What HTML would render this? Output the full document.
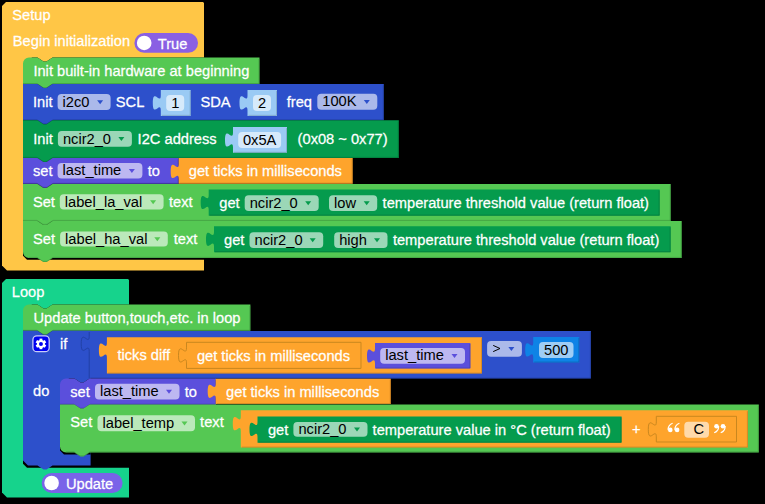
<!DOCTYPE html>
<html><head><meta charset="utf-8"><style>
html,body{margin:0;padding:0;background:#000;width:765px;height:504px;overflow:hidden}
svg{display:block}
text{font-family:"Liberation Sans",sans-serif;-webkit-font-smoothing:antialiased}
</style></head><body>
<svg width="765" height="504" viewBox="0 0 765 504">
<rect width="765" height="504" fill="#000"/>
<path d="M2,6 L6,2 L203,2 L204,3 L204,270.6 L7,270.6 L2,265.6 Z" fill="#FFC646"/>
<path d="M23,66.5 L32,57.5 L37.5,57.5 l6,4 l3,0 l6,-4 L204,57.5 L204,259.8 L27,259.8 L23,255.8 Z" fill="#000"/>
<text transform="translate(12.30,19.6) scale(1,1.04)" fill="#fff" stroke="#fff" stroke-width="0.25" font-size="14.67">Setup</text>
<text transform="translate(12.80,45.6) scale(1,1.04)" fill="#fff" stroke="#fff" stroke-width="0.25" font-size="14.67">Begin initialization</text>
<rect x="134.4" y="33.1" width="63.60" height="19.70" rx="9.85" fill="#8A60E3"/>
<circle cx="144.2" cy="42.95" r="7.3" fill="#fff"/>
<text transform="translate(157.80,49.25) scale(1,1.04)" fill="#fff" stroke="#fff" stroke-width="0.25" font-size="14.67">True</text>
<path d="M23,63.5 A6,6 0 0 1 29,57.5 L37.5,57.5 l6,4 l3,0 l6,-4 L259.5,57.5 L259.5,84.0 L52.5,84.0 l-6,4 l-3,0 l-6,-4 L23,84.0 Z" fill="#55C853"/>
<path d="M259.0,59.0 L259.0,83.5 L53.0,83.5 l-6,4 l-4,0 l-6,-4 L23,83.5" fill="none" stroke="#3b8c3a" stroke-width="1" stroke-opacity="0.55"/>
<text transform="translate(33.40,75.5) scale(1,1.04)" fill="#fff" stroke="#fff" stroke-width="0.25" font-size="14.67">Init built-in hardware at beginning</text>
<path d="M23,84 L37.5,84 l6,4 l3,0 l6,-4 L383.8,84 L383.8,120.3 L52.5,120.3 l-6,4 l-3,0 l-6,-4 L23,120.3 Z" fill="#2D50CB"/>
<path d="M383.3,85.5 L383.3,119.8 L53.0,119.8 l-6,4 l-4,0 l-6,-4 L23,119.8" fill="none" stroke="#1f388e" stroke-width="1" stroke-opacity="0.55"/>
<text transform="translate(33.00,106.8) scale(1,1.04)" fill="#fff" stroke="#fff" stroke-width="0.25" font-size="14.67">Init</text>
<rect x="57.6" y="94" width="53.00" height="16.00" rx="4" fill="#fff" fill-opacity="0.6"/>
<text transform="translate(62.60,106.6) scale(1,1.04)" fill="#000" font-size="14.67">i2c0</text>
<path d="M97.1,100.2 L103.1,100.2 L100.1,104.2 Z" fill="#2D50CB"/>
<text transform="translate(115.80,106.6) scale(1,1.04)" fill="#fff" stroke="#fff" stroke-width="0.25" font-size="14.67">SCL</text>
<path d="M160.8,89.9 L190.70000000000002,89.9 L190.70000000000002,115.9 L160.8,115.9 L160.8,110.4 c0,-10 -8,8 -8,-7.5 s8,2.5 8,-7.5 Z" fill="#9ACAF4"/>
<path d="M190.20000000000002,90.9 L190.20000000000002,115.4 L161.8,115.4" fill="none" stroke="#6b8daa" stroke-width="1" stroke-opacity="0.5"/>
<rect x="166.2" y="95" width="18.00" height="15.90" rx="4" fill="#fff" fill-opacity="0.6"/>
<text transform="translate(175.20,107.95) scale(1,1.04)" fill="#000" font-size="14.67" text-anchor="middle">1</text>
<text transform="translate(200.50,106.6) scale(1,1.04)" fill="#fff" stroke="#fff" stroke-width="0.25" font-size="14.67">SDA</text>
<path d="M247.5,89.9 L277.0,89.9 L277.0,115.9 L247.5,115.9 L247.5,110.4 c0,-10 -8,8 -8,-7.5 s8,2.5 8,-7.5 Z" fill="#9ACAF4"/>
<path d="M276.5,90.9 L276.5,115.4 L248.5,115.4" fill="none" stroke="#6b8daa" stroke-width="1" stroke-opacity="0.5"/>
<rect x="253" y="95" width="18.00" height="15.90" rx="4" fill="#fff" fill-opacity="0.6"/>
<text transform="translate(262.00,107.95) scale(1,1.04)" fill="#000" font-size="14.67" text-anchor="middle">2</text>
<text transform="translate(286.70,106.6) scale(1,1.04)" fill="#fff" stroke="#fff" stroke-width="0.25" font-size="14.67">freq</text>
<rect x="317.3" y="93.8" width="60.00" height="15.90" rx="4" fill="#fff" fill-opacity="0.6"/>
<text transform="translate(322.30,106.35) scale(1,1.04)" fill="#000" font-size="14.67">100K</text>
<path d="M363.8,99.95 L369.8,99.95 L366.8,103.95 Z" fill="#2D50CB"/>
<path d="M23,120.3 L37.5,120.3 l6,4 l3,0 l6,-4 L398.8,120.3 L398.8,157.9 L52.5,157.9 l-6,4 l-3,0 l-6,-4 L23,157.9 Z" fill="#059B4D"/>
<path d="M398.3,121.8 L398.3,157.4 L53.0,157.4 l-6,4 l-4,0 l-6,-4 L23,157.4" fill="none" stroke="#036c35" stroke-width="1" stroke-opacity="0.55"/>
<text transform="translate(33.20,143.9) scale(1,1.04)" fill="#fff" stroke="#fff" stroke-width="0.25" font-size="14.67">Init</text>
<rect x="57.9" y="131" width="74.00" height="15.80" rx="4" fill="#fff" fill-opacity="0.6"/>
<text transform="translate(62.90,143.5) scale(1,1.04)" fill="#000" font-size="14.67">ncir2_0</text>
<path d="M118.4,137.1 L124.4,137.1 L121.4,141.1 Z" fill="#059B4D"/>
<text transform="translate(137.60,143.8) scale(1,1.04)" fill="#fff" stroke="#fff" stroke-width="0.25" font-size="14.67">I2C address</text>
<path d="M233,127 L287,127 L287,152.8 L233,152.8 L233,147.5 c0,-10 -8,8 -8,-7.5 s8,2.5 8,-7.5 Z" fill="#9ACAF4"/>
<path d="M286.5,128 L286.5,152.3 L234,152.3" fill="none" stroke="#6b8daa" stroke-width="1" stroke-opacity="0.5"/>
<rect x="238.2" y="131.9" width="42.90" height="16.20" rx="4" fill="#fff" fill-opacity="0.6"/>
<text transform="translate(259.65,145.0) scale(1,1.04)" fill="#000" font-size="14.67" text-anchor="middle">0x5A</text>
<text transform="translate(297.60,143.8) scale(1,1.04)" fill="#fff" stroke="#fff" stroke-width="0.25" font-size="14.67">(0x08 ~ 0x77)</text>
<path d="M23,157.9 L37.5,157.9 l6,4 l3,0 l6,-4 L178.7,157.9 L178.7,183.8 L52.5,183.8 l-6,4 l-3,0 l-6,-4 L23,183.8 Z" fill="#5B4FDC"/>
<path d="M178.2,159.4 L178.2,183.3 L53.0,183.3 l-6,4 l-4,0 l-6,-4 L23,183.3" fill="none" stroke="#3f379a" stroke-width="1" stroke-opacity="0.55"/>
<text transform="translate(32.90,175.8) scale(1,1.04)" fill="#fff" stroke="#fff" stroke-width="0.25" font-size="14.67">set</text>
<rect x="57.6" y="163" width="84.80" height="15.60" rx="4" fill="#fff" fill-opacity="0.6"/>
<text transform="translate(62.60,175.4) scale(1,1.04)" fill="#000" font-size="14.67">last_time</text>
<path d="M128.9,169.0 L134.9,169.0 L131.9,173.0 Z" fill="#5B4FDC"/>
<text transform="translate(147.80,175.8) scale(1,1.04)" fill="#fff" stroke="#fff" stroke-width="0.25" font-size="14.67">to</text>
<path d="M178.7,157.9 L352.7,157.9 L352.7,183.70000000000002 L178.7,183.70000000000002 L178.7,178.9 c0,-10 -8,8 -8,-7.5 s8,2.5 8,-7.5 Z" fill="#FEA42C"/>
<path d="M352.2,158.9 L352.2,183.20000000000002 L179.7,183.20000000000002" fill="none" stroke="#b1721e" stroke-width="1" stroke-opacity="0.5"/>
<text transform="translate(188.80,175.8) scale(1,1.04)" fill="#fff" stroke="#fff" stroke-width="0.25" font-size="14.67">get ticks in milliseconds</text>
<path d="M23,184 L37.5,184 l6,4 l3,0 l6,-4 L670.7,184 L670.7,220.9 L52.5,220.9 l-6,4 l-3,0 l-6,-4 L23,220.9 Z" fill="#55C853"/>
<path d="M670.2,185.5 L670.2,220.4 L53.0,220.4 l-6,4 l-4,0 l-6,-4 L23,220.4" fill="none" stroke="#3b8c3a" stroke-width="1" stroke-opacity="0.55"/>
<text transform="translate(32.90,207.2) scale(1,1.04)" fill="#fff" stroke="#fff" stroke-width="0.25" font-size="14.67">Set</text>
<rect x="59.8" y="194.3" width="103.80" height="15.30" rx="4" fill="#fff" fill-opacity="0.6"/>
<text transform="translate(64.80,206.54999999999998) scale(1,1.04)" fill="#000" font-size="14.67">label_la_val</text>
<path d="M150.1,200.14999999999998 L156.1,200.14999999999998 L153.1,204.14999999999998 Z" fill="#55C853"/>
<text transform="translate(169.00,207.2) scale(1,1.04)" fill="#fff" stroke="#fff" stroke-width="0.25" font-size="14.67">text</text>
<path d="M208.7,189.5 L659.7,189.5 L659.7,215.7 L208.7,215.7 L208.7,210.0 c0,-10 -8,8 -8,-7.5 s8,2.5 8,-7.5 Z" fill="#059B4D"/>
<path d="M659.2,190.5 L659.2,215.2 L209.7,215.2" fill="none" stroke="#036c35" stroke-width="1" stroke-opacity="0.5"/>
<text transform="translate(219.30,208.1) scale(1,1.04)" fill="#fff" stroke="#fff" stroke-width="0.25" font-size="14.67">get</text>
<rect x="244.7" y="195.2" width="74.00" height="15.80" rx="4" fill="#fff" fill-opacity="0.6"/>
<text transform="translate(249.70,207.7) scale(1,1.04)" fill="#000" font-size="14.67">ncir2_0</text>
<path d="M305.2,201.29999999999998 L311.2,201.29999999999998 L308.2,205.29999999999998 Z" fill="#059B4D"/>
<rect x="329" y="195.2" width="48.20" height="15.80" rx="4" fill="#fff" fill-opacity="0.6"/>
<text transform="translate(334.00,207.7) scale(1,1.04)" fill="#000" font-size="14.67">low</text>
<path d="M363.7,201.29999999999998 L369.7,201.29999999999998 L366.7,205.29999999999998 Z" fill="#059B4D"/>
<text transform="translate(382.60,208) scale(1,1.04)" fill="#fff" stroke="#fff" stroke-width="0.25" font-size="14.67">temperature threshold value (return float)</text>
<path d="M23,221 L37.5,221 l6,4 l3,0 l6,-4 L681.7,221 L681.7,257.9 L52.5,257.9 l-6,4 l-3,0 l-6,-4 L29,257.9 A6,6 0 0 1 23,251.89999999999998 Z" fill="#55C853"/>
<path d="M681.2,222.5 L681.2,257.4 L53.0,257.4 l-6,4 l-4,0 l-6,-4 L29,257.4" fill="none" stroke="#3b8c3a" stroke-width="1" stroke-opacity="0.55"/>
<text transform="translate(33.00,244.3) scale(1,1.04)" fill="#fff" stroke="#fff" stroke-width="0.25" font-size="14.67">Set</text>
<rect x="60.1" y="231.5" width="107.70" height="15.10" rx="4" fill="#fff" fill-opacity="0.6"/>
<text transform="translate(65.10,243.65) scale(1,1.04)" fill="#000" font-size="14.67">label_ha_val</text>
<path d="M154.3,237.25 L160.3,237.25 L157.3,241.25 Z" fill="#55C853"/>
<text transform="translate(173.80,244.3) scale(1,1.04)" fill="#fff" stroke="#fff" stroke-width="0.25" font-size="14.67">text</text>
<path d="M214,226.3 L670.7,226.3 L670.7,252.3 L214,252.3 L214,246.8 c0,-10 -8,8 -8,-7.5 s8,2.5 8,-7.5 Z" fill="#059B4D"/>
<path d="M670.2,227.3 L670.2,251.8 L215,251.8" fill="none" stroke="#036c35" stroke-width="1" stroke-opacity="0.5"/>
<text transform="translate(224.00,245.1) scale(1,1.04)" fill="#fff" stroke="#fff" stroke-width="0.25" font-size="14.67">get</text>
<rect x="249.5" y="232.2" width="73.70" height="15.80" rx="4" fill="#fff" fill-opacity="0.6"/>
<text transform="translate(254.50,244.7) scale(1,1.04)" fill="#000" font-size="14.67">ncir2_0</text>
<path d="M309.7,238.29999999999998 L315.7,238.29999999999998 L312.7,242.29999999999998 Z" fill="#059B4D"/>
<rect x="334.2" y="232.2" width="53.30" height="15.80" rx="4" fill="#fff" fill-opacity="0.6"/>
<text transform="translate(339.20,244.7) scale(1,1.04)" fill="#000" font-size="14.67">high</text>
<path d="M374.0,238.29999999999998 L380.0,238.29999999999998 L377.0,242.29999999999998 Z" fill="#059B4D"/>
<text transform="translate(392.90,245) scale(1,1.04)" fill="#fff" stroke="#fff" stroke-width="0.25" font-size="14.67">temperature threshold value (return float)</text>
<path d="M2,283 L6,279 L128,279 L129,280 L129,497.6 L7,497.6 L2,492.6 Z" fill="#16D38C"/>
<path d="M23,313.5 L32,304.5 L37.5,304.5 l6,4 l3,0 l6,-4 L129,304.5 L129,467.8 L27,467.8 L23,463.8 Z" fill="#000"/>
<text transform="translate(11.80,297) scale(1,1.04)" fill="#fff" stroke="#fff" stroke-width="0.25" font-size="14.67">Loop</text>
<path d="M23,310.5 A6,6 0 0 1 29,304.5 L37.5,304.5 l6,4 l3,0 l6,-4 L250.4,304.5 L250.4,330.8 L52.5,330.8 l-6,4 l-3,0 l-6,-4 L23,330.8 Z" fill="#55C853"/>
<path d="M249.9,306.0 L249.9,330.3 L53.0,330.3 l-6,4 l-4,0 l-6,-4 L23,330.3" fill="none" stroke="#3b8c3a" stroke-width="1" stroke-opacity="0.55"/>
<text transform="translate(33.50,322.5) scale(1,1.04)" fill="#fff" stroke="#fff" stroke-width="0.25" font-size="14.67">Update button,touch,etc. in loop</text>
<path d="M23,330.8 L37.5,330.8 l6,4 l3,0 l6,-4 L90.6,330.8 L90.6,465.6 L52.5,465.6 l-6,4 l-3,0 l-6,-4 L28,465.6 L23,460.6 Z" fill="#2D50CB"/>
<path d="M60,388 L69,378.5 L74.5,378.5 l6,4 l3,0 l6,-4 L90.6,378.5 L90.6,454.6 L64,454.6 L60,450.6 Z" fill="#000"/>
<rect x="32.9" y="335.9" width="16.3" height="15.8" rx="4" fill="#0000F0" stroke="#C8CCF8" stroke-width="1.3"/>
<g transform="translate(40.95,343.9)"><circle r="4" fill="#fff"/><rect x="-1.4" y="-5.3" width="2.8" height="3" transform="rotate(0)" fill="#fff"/><rect x="-1.4" y="-5.3" width="2.8" height="3" transform="rotate(60)" fill="#fff"/><rect x="-1.4" y="-5.3" width="2.8" height="3" transform="rotate(120)" fill="#fff"/><rect x="-1.4" y="-5.3" width="2.8" height="3" transform="rotate(180)" fill="#fff"/><rect x="-1.4" y="-5.3" width="2.8" height="3" transform="rotate(240)" fill="#fff"/><rect x="-1.4" y="-5.3" width="2.8" height="3" transform="rotate(300)" fill="#fff"/><circle r="2" fill="#0000F0"/></g>
<text transform="translate(60.00,349) scale(1,1.04)" fill="#fff" stroke="#fff" stroke-width="0.25" font-size="14.67">if</text>
<text transform="translate(33.10,396) scale(1,1.04)" fill="#fff" stroke="#fff" stroke-width="0.25" font-size="14.67">do</text>
<path d="M89.3,331.1 L590.9,331.1 L590.9,378.6 L89.3,378.6 L89.3,351.3 c0,-10 -8,8 -8,-7.5 s8,2.5 8,-7.5 Z" fill="#2D50CB"/>
<path d="M590.4,332.1 L590.4,378.1 L90.3,378.1" fill="none" stroke="#1f388e" stroke-width="1" stroke-opacity="0.5"/>
<path d="M89.2,332 L89.2,336.3 c0,10 -8,-8 -8,7.5 s8,-2.5 8,7.5 L89.2,378.6" fill="none" stroke="#2241A6" stroke-width="1"/>
<path d="M106.9,337.2 L482.0,337.2 L482.0,373.59999999999997 L106.9,373.59999999999997 L106.9,357.7 c0,-10 -8,8 -8,-7.5 s8,2.5 8,-7.5 Z" fill="#FEA42C"/>
<path d="M481.5,338.2 L481.5,373.09999999999997 L107.9,373.09999999999997" fill="none" stroke="#b1721e" stroke-width="1" stroke-opacity="0.5"/>
<text transform="translate(117.40,359.8) scale(1,1.04)" fill="#fff" stroke="#fff" stroke-width="0.25" font-size="14.67">ticks diff</text>
<path d="M186.5,342.3 L361.0,342.3 L361.0,368.40000000000003 L186.5,368.40000000000003 L186.5,362.90000000000003 c0,-10 -8,8 -8,-7.5 s8,2.5 8,-7.5 Z" fill="#FEA42C" stroke="#C9871F" stroke-width="1"/>
<text transform="translate(196.90,360.6) scale(1,1.04)" fill="#fff" stroke="#fff" stroke-width="0.25" font-size="14.67">get ticks in milliseconds</text>
<path d="M375,343 L470.4,343 L470.4,368.5 L375,368.5 L375,363.5 c0,-10 -8,8 -8,-7.5 s8,2.5 8,-7.5 Z" fill="#5B4FDC"/>
<path d="M469.9,344 L469.9,368.0 L376,368.0" fill="none" stroke="#3f379a" stroke-width="1" stroke-opacity="0.5"/>
<rect x="380.2" y="348" width="84.80" height="15.70" rx="4" fill="#fff" fill-opacity="0.6"/>
<text transform="translate(385.20,360.45000000000005) scale(1,1.04)" fill="#000" font-size="14.67">last_time</text>
<path d="M451.5,354.05 L457.5,354.05 L454.5,358.05 Z" fill="#5B4FDC"/>
<rect x="487.1" y="341.1" width="34.80" height="15.60" rx="4" fill="#fff" fill-opacity="0.6"/>
<text transform="translate(492.10,353.5) scale(1,1.04)" fill="#000" font-size="14.67"></text>
<path d="M508.4,347.09999999999997 L514.4,347.09999999999997 L511.4,351.09999999999997 Z" fill="#2D50CB"/>
<path d="M493.2,345.4 L500,348.5 L493.2,351.6" fill="none" stroke="#000" stroke-width="1"/>
<path d="M533.2,336.9 L579.3000000000001,336.9 L579.3000000000001,362.5 L533.2,362.5 L533.2,357.4 c0,-10 -8,8 -8,-7.5 s8,2.5 8,-7.5 Z" fill="#0E83E6"/>
<path d="M578.8000000000001,337.9 L578.8000000000001,362.0 L534.2,362.0" fill="none" stroke="#095ba1" stroke-width="1" stroke-opacity="0.5"/>
<rect x="539" y="342" width="34.50" height="16.00" rx="4" fill="#fff" fill-opacity="0.6"/>
<text transform="translate(556.25,355.0) scale(1,1.04)" fill="#000" font-size="14.67" text-anchor="middle">500</text>
<path d="M60,384.4 A6,6 0 0 1 66,378.4 L74.5,378.4 l6,4 l3,0 l6,-4 L216,378.4 L216,404.7 L89.5,404.7 l-6,4 l-3,0 l-6,-4 L60,404.7 Z" fill="#5B4FDC"/>
<path d="M215.5,379.9 L215.5,404.2 L90.0,404.2 l-6,4 l-4,0 l-6,-4 L60,404.2" fill="none" stroke="#3f379a" stroke-width="1" stroke-opacity="0.55"/>
<text transform="translate(70.20,396.6) scale(1,1.04)" fill="#fff" stroke="#fff" stroke-width="0.25" font-size="14.67">set</text>
<rect x="95" y="383.8" width="84.50" height="15.70" rx="4" fill="#fff" fill-opacity="0.6"/>
<text transform="translate(100.00,396.25) scale(1,1.04)" fill="#000" font-size="14.67">last_time</text>
<path d="M166.0,389.84999999999997 L172.0,389.84999999999997 L169.0,393.84999999999997 Z" fill="#5B4FDC"/>
<text transform="translate(184.70,396.6) scale(1,1.04)" fill="#fff" stroke="#fff" stroke-width="0.25" font-size="14.67">to</text>
<path d="M215.7,378.8 L390.79999999999995,378.8 L390.79999999999995,404.1 L215.7,404.1 L215.7,398.8 c0,-10 -8,8 -8,-7.5 s8,2.5 8,-7.5 Z" fill="#FEA42C"/>
<path d="M390.29999999999995,379.8 L390.29999999999995,403.6 L216.7,403.6" fill="none" stroke="#b1721e" stroke-width="1" stroke-opacity="0.5"/>
<text transform="translate(226.10,396.6) scale(1,1.04)" fill="#fff" stroke="#fff" stroke-width="0.25" font-size="14.67">get ticks in milliseconds</text>
<path d="M60,404.5 L74.5,404.5 l6,4 l3,0 l6,-4 L758.8,404.5 L758.8,452.4 L89.5,452.4 l-6,4 l-3,0 l-6,-4 L66,452.4 A6,6 0 0 1 60,446.4 Z" fill="#55C853"/>
<path d="M758.3,406.0 L758.3,451.9 L90.0,451.9 l-6,4 l-4,0 l-6,-4 L66,451.9" fill="none" stroke="#3b8c3a" stroke-width="1" stroke-opacity="0.55"/>
<text transform="translate(70.30,427.2) scale(1,1.04)" fill="#fff" stroke="#fff" stroke-width="0.25" font-size="14.67">Set</text>
<rect x="97.5" y="415.3" width="97.50" height="16.00" rx="4" fill="#fff" fill-opacity="0.6"/>
<text transform="translate(102.50,427.90000000000003) scale(1,1.04)" fill="#000" font-size="14.67">label_temp</text>
<path d="M181.5,421.5 L187.5,421.5 L184.5,425.5 Z" fill="#55C853"/>
<text transform="translate(200.10,427.2) scale(1,1.04)" fill="#fff" stroke="#fff" stroke-width="0.25" font-size="14.67">text</text>
<path d="M240.8,410.2 L747.9000000000001,410.2 L747.9000000000001,447.59999999999997 L240.8,447.59999999999997 L240.8,431.2 c0,-10 -8,8 -8,-7.5 s8,2.5 8,-7.5 Z" fill="#FEA42C"/>
<path d="M747.4000000000001,411.2 L747.4000000000001,447.09999999999997 L241.8,447.09999999999997" fill="none" stroke="#b1721e" stroke-width="1" stroke-opacity="0.5"/>
<path d="M257.5,416.4 L621.6,416.4 L621.6,442.7 L257.5,442.7 L257.5,436.9 c0,-10 -8,8 -8,-7.5 s8,2.5 8,-7.5 Z" fill="#059B4D"/>
<path d="M621.1,417.4 L621.1,442.2 L258.5,442.2" fill="none" stroke="#036c35" stroke-width="1" stroke-opacity="0.5"/>
<text transform="translate(267.90,434.6) scale(1,1.04)" fill="#fff" stroke="#fff" stroke-width="0.25" font-size="14.67">get</text>
<rect x="293.4" y="422" width="74.10" height="14.70" rx="4" fill="#fff" fill-opacity="0.6"/>
<text transform="translate(298.40,433.95000000000005) scale(1,1.04)" fill="#000" font-size="14.67">ncir2_0</text>
<path d="M354.0,427.55 L360.0,427.55 L357.0,431.55 Z" fill="#059B4D"/>
<text transform="translate(372.60,434.6) scale(1,1.04)" fill="#fff" stroke="#fff" stroke-width="0.25" font-size="14.67">temperature value in °C (return float)</text>
<text transform="translate(636.30,434) scale(1,1.04)" fill="#fff" stroke="#fff" stroke-width="0.25" font-size="14.67" text-anchor="middle">+</text>
<path d="M656.3,416.3 L736.5,416.3 L736.5,442.0 L656.3,442.0 L656.3,436.90000000000003 c0,-10 -8,8 -8,-7.5 s8,2.5 8,-7.5 Z" fill="#FEA42C" stroke="#C9871F" stroke-width="1"/>
<g transform="translate(670.1,427.7) rotate(0)"><circle cx="0.2" cy="2.2" r="2.3" fill="#fff"/><path d="M-1.9,2.4 Q-2.4,-2.4 2.5,-4.4" fill="none" stroke="#fff" stroke-width="1.2"/></g>
<g transform="translate(676.9,427.7) rotate(0)"><circle cx="0.2" cy="2.2" r="2.3" fill="#fff"/><path d="M-1.9,2.4 Q-2.4,-2.4 2.5,-4.4" fill="none" stroke="#fff" stroke-width="1.2"/></g>
<rect x="684.3" y="421.8" width="24.70" height="16.00" rx="4" fill="#fff" fill-opacity="0.6"/>
<text transform="translate(696.65,434.8) scale(1,1.04)" fill="#000" font-size="14.67" text-anchor="middle"></text>
<text transform="translate(693.60,434.4) scale(1,1.04)" fill="#000" font-size="14.67">C</text>
<g transform="translate(716.7,428.4) rotate(180)"><circle cx="0.2" cy="2.2" r="2.3" fill="#fff"/><path d="M-1.9,2.4 Q-2.4,-2.4 2.5,-4.4" fill="none" stroke="#fff" stroke-width="1.2"/></g>
<g transform="translate(723.2,428.4) rotate(180)"><circle cx="0.2" cy="2.2" r="2.3" fill="#fff"/><path d="M-1.9,2.4 Q-2.4,-2.4 2.5,-4.4" fill="none" stroke="#fff" stroke-width="1.2"/></g>
<rect x="41.7" y="473" width="80.90" height="20.00" rx="10.00" fill="#7A63E8"/>
<circle cx="51.6" cy="483.00" r="7.3" fill="#fff"/>
<text transform="translate(65.90,489.3) scale(1,1.04)" fill="#fff" stroke="#fff" stroke-width="0.25" font-size="14.67">Update</text>
</svg>
</body></html>
